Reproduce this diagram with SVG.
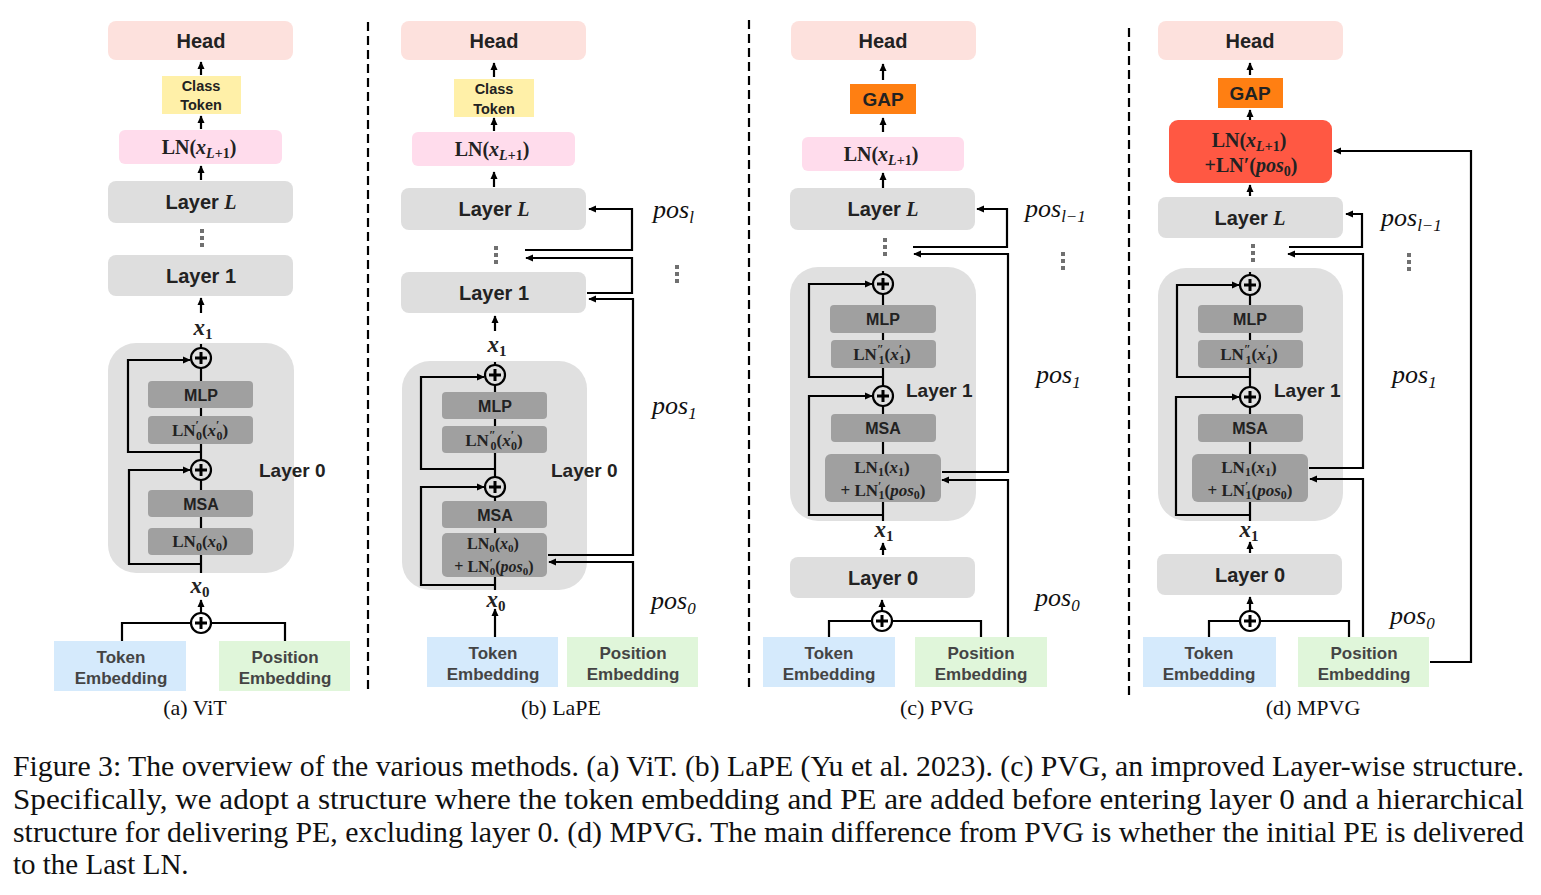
<svg xmlns="http://www.w3.org/2000/svg" width="1541" height="895" viewBox="0 0 1541 895">
<style>
.bg{fill:#fff}
.head{fill:#FDE1DD}
.cls{fill:#FFF0A8}
.lnb{fill:#FFDCEC}
.lay{fill:#DEDEDE}
.big{fill:#E0E0E0}
.inn{fill:#A0A0A0}
.gap{fill:#FF7F12}
.red{fill:#FF5843}
.tok{fill:#D5EAFC}
.pos{fill:#E0F6DA}
.t{font-family:"Liberation Sans",Arial,sans-serif;font-weight:bold;fill:#222;text-anchor:middle}
.te{font-family:"Liberation Sans",Arial,sans-serif;font-weight:bold;fill:#444;text-anchor:middle;font-size:17px}
.it{font-family:"Liberation Serif","Times New Roman",serif;font-style:italic;font-weight:bold}
.m{font-family:"Liberation Serif","Times New Roman",serif;font-weight:bold;fill:#222;text-anchor:middle}
.pl{font-family:"Liberation Serif","Times New Roman",serif;font-style:italic;fill:#111;font-size:26px}
.cap{font-family:"Liberation Serif","Times New Roman",serif;fill:#111;font-size:22px;text-anchor:middle}
.fig{font-family:"Liberation Serif","Times New Roman",serif;fill:#111;font-size:29px}
.ln{stroke:#000;stroke-width:2.2;fill:none}
.ar{marker-end:url(#ah)}
.sep{stroke:#000;stroke-width:2.2;stroke-dasharray:9 5}
.oc{stroke:#000;stroke-width:2.2}
.op{stroke:#000;stroke-width:3}
.dot{fill:#707070}
</style>
<defs>
<marker id="ah" viewBox="0 0 10 10" refX="9" refY="5" markerWidth="8" markerHeight="8" markerUnits="userSpaceOnUse" orient="auto"><path d="M0,0.5 L10,5 L0,9.5 z" fill="#000"/></marker>
</defs>
<rect class="bg" x="0" y="0" width="1541" height="895"/>

<!-- containers -->
<g id="a-layer0"><rect class="big" x="108" y="343" width="186" height="230" rx="28"/><text class="t" x="259" y="477" font-size="19" style="text-anchor:start">Layer 0</text></g>
<g id="b-layer0"><rect class="big" x="402" y="361" width="185" height="229" rx="28"/><text class="t" x="551" y="477" font-size="19" style="text-anchor:start">Layer 0</text></g>
<g id="c-layer1"><rect class="big" x="790" y="267" width="186" height="254" rx="28"/><text class="t" x="906" y="397" font-size="19" style="text-anchor:start">Layer 1</text></g>
<g id="d-layer1"><rect class="big" x="1158" y="268" width="185" height="253" rx="28"/><text class="t" x="1274" y="397" font-size="19" style="text-anchor:start">Layer 1</text></g>

<!-- connectors -->
<g id="connectors">
<line class="sep" x1="368" y1="22" x2="368" y2="692"/>
<line class="sep" x1="749" y1="20" x2="749" y2="690"/>
<line class="sep" x1="1129" y1="28" x2="1129" y2="698"/>
<!-- (a) -->
<path class="ln ar" d="M201,75V62"/>
<path class="ln ar" d="M201,129V116"/>
<path class="ln ar" d="M201,180V166"/>
<path class="ln ar" d="M201,313V298"/>
<path class="ln" d="M201,573V344"/>
<path class="ln ar" d="M201,452H128V360H190"/>
<path class="ln ar" d="M201,564H129V470H190"/>
<path class="ln ar" d="M201,613V600"/>
<path class="ln" d="M122,641V623H191M285,641V623H211"/>
<!-- (b) -->
<path class="ln ar" d="M494,77V63"/>
<path class="ln ar" d="M494,131V118"/>
<path class="ln ar" d="M494,187V172"/>
<path class="ln ar" d="M495,331V316"/>
<path class="ln" d="M495,590V362"/>
<path class="ln ar" d="M495,469H421V377H484"/>
<path class="ln ar" d="M495,585H421V487H484"/>
<path class="ln ar" d="M495,637V609"/>
<path class="ln ar" d="M525,250H632V209H589"/>
<path class="ln ar" d="M587,293H632V258H526"/>
<path class="ln ar" d="M548,555H633V299H589"/>
<path class="ln ar" d="M633,637V562H549"/>
<!-- (c) -->
<path class="ln ar" d="M883,80V64"/>
<path class="ln ar" d="M883,132V118"/>
<path class="ln ar" d="M883,188V173"/>
<path class="ln" d="M883,521V271"/>
<path class="ln ar" d="M883,377H809V284H872"/>
<path class="ln ar" d="M883,515H809V396H872"/>
<path class="ln ar" d="M883,555V543"/>
<path class="ln ar" d="M882,611V600"/>
<path class="ln" d="M829,637V621H872M981,637V621H892"/>
<path class="ln ar" d="M913,247H1007V209H977"/>
<path class="ln ar" d="M942,472H1008V254H914"/>
<path class="ln ar" d="M1008,637V480H942"/>
<!-- (d) -->
<path class="ln ar" d="M1250,75V63"/>
<path class="ln ar" d="M1250,120V110"/>
<path class="ln ar" d="M1250,196V185"/>
<path class="ln" d="M1250,521V272"/>
<path class="ln ar" d="M1250,377H1177V285H1239"/>
<path class="ln ar" d="M1250,515H1176V397H1239"/>
<path class="ln ar" d="M1250,553V542"/>
<path class="ln ar" d="M1250,611V597"/>
<path class="ln" d="M1209,637V621H1240M1349,637V621H1260"/>
<path class="ln ar" d="M1289,247H1362V214H1346"/>
<path class="ln ar" d="M1309,468H1363V254H1288"/>
<path class="ln ar" d="M1363,637V479H1310"/>
<path class="ln ar" d="M1430,662H1471V151H1334"/>
</g>

<!-- ===== (a) ViT ===== -->
<g id="a-head"><rect class="head" x="108" y="21" width="185" height="39" rx="8"/><text class="t" x="201" y="48" font-size="20">Head</text></g>
<g id="a-cls"><rect class="cls" x="162" y="76" width="79" height="38"/><text class="t" x="201" y="91" font-size="14.5">Class</text><text class="t" x="201" y="110" font-size="14.5">Token</text></g>
<g id="a-ln"><rect class="lnb" x="119" y="130" width="163" height="34" rx="6"/><text class="m" x="199" y="154" font-size="20">LN(<tspan font-style="italic">x</tspan><tspan font-style="italic" font-size="14" dy="4">L</tspan><tspan font-size="14">+1</tspan><tspan dy="-4">)</tspan></text></g>
<g id="a-layerL"><rect class="lay" x="108" y="181" width="185" height="42" rx="8"/><text class="t" x="201" y="209" font-size="20">Layer <tspan class="it">L</tspan></text></g>
<g id="a-dots"><rect class="dot" x="200" y="229" width="4" height="4"/><rect class="dot" x="200" y="236" width="4" height="4"/><rect class="dot" x="200" y="243" width="4" height="4"/></g>
<g id="a-layer1"><rect class="lay" x="108" y="255" width="185" height="41" rx="8"/><text class="t" x="201" y="283" font-size="20">Layer 1</text></g>
<g id="a-x1"><text class="m" x="203" y="335" font-size="23"><tspan font-style="italic">x</tspan><tspan font-size="15" dy="4">1</tspan></text></g>
<g id="a-add2"><circle class="oc big" cx="201" cy="358" r="10"/><path class="op" d="M195,358h12M201,352v12"/></g>
<g id="a-mlp"><rect class="inn" x="148" y="381" width="105" height="27" rx="4"/><text class="t" x="201" y="401" font-size="16">MLP</text></g>
<g id="a-ln0p"><rect class="inn" x="148" y="416" width="105" height="28" rx="4"/><text class="m" x="200" y="436" font-size="17">LN<tspan font-size="12" dy="-7">′</tspan><tspan font-size="12" dx="-3" dy="11">0</tspan><tspan dy="-4">(</tspan><tspan font-style="italic">x</tspan><tspan font-size="12" dy="-7">′</tspan><tspan font-size="12" dx="-3" dy="11">0</tspan><tspan dy="-4">)</tspan></text></g>
<g id="a-add1"><circle class="oc big" cx="201" cy="470" r="10"/><path class="op" d="M195,470h12M201,464v12"/></g>
<g id="a-msa"><rect class="inn" x="148" y="490" width="105" height="27" rx="4"/><text class="t" x="201" y="510" font-size="16">MSA</text></g>
<g id="a-ln0"><rect class="inn" x="148" y="528" width="105" height="27" rx="4"/><text class="m" x="200" y="547" font-size="17">LN<tspan font-size="12" dy="4">0</tspan><tspan dy="-4">(</tspan><tspan font-style="italic">x</tspan><tspan font-size="12" dy="4">0</tspan><tspan dy="-4">)</tspan></text></g>
<g id="a-x0"><text class="m" x="200" y="593" font-size="23"><tspan font-style="italic">x</tspan><tspan font-size="15" dy="4">0</tspan></text></g>
<g id="a-add0"><circle class="oc bg" cx="201" cy="623" r="10"/><path class="op" d="M195,623h12M201,617v12"/></g>
<g id="a-tok"><rect class="tok" x="54" y="641" width="132" height="50"/><text class="te" x="121" y="663">Token</text><text class="te" x="121" y="684">Embedding</text></g>
<g id="a-pos"><rect class="pos" x="219" y="641" width="131" height="50"/><text class="te" x="285" y="663">Position</text><text class="te" x="285" y="684">Embedding</text></g>
<text class="cap" x="195" y="715">(a) ViT</text>

<!-- ===== (b) LaPE ===== -->
<g id="b-head"><rect class="head" x="401" y="21" width="185" height="39" rx="8"/><text class="t" x="494" y="48" font-size="20">Head</text></g>
<g id="b-cls"><rect class="cls" x="454" y="79" width="80" height="38"/><text class="t" x="494" y="94" font-size="14.5">Class</text><text class="t" x="494" y="114" font-size="14.5">Token</text></g>
<g id="b-ln"><rect class="lnb" x="412" y="132" width="163" height="34" rx="6"/><text class="m" x="492" y="156" font-size="20">LN(<tspan font-style="italic">x</tspan><tspan font-style="italic" font-size="14" dy="4">L</tspan><tspan font-size="14">+1</tspan><tspan dy="-4">)</tspan></text></g>
<g id="b-layerL"><rect class="lay" x="401" y="188" width="185" height="42" rx="8"/><text class="t" x="494" y="216" font-size="20">Layer <tspan class="it">L</tspan></text></g>
<g id="b-dots"><rect class="dot" x="494" y="246" width="4" height="4"/><rect class="dot" x="494" y="253" width="4" height="4"/><rect class="dot" x="494" y="260" width="4" height="4"/></g>
<g id="b-layer1"><rect class="lay" x="401" y="272" width="185" height="41" rx="8"/><text class="t" x="494" y="300" font-size="20">Layer 1</text></g>
<g id="b-x1"><text class="m" x="497" y="352" font-size="23"><tspan font-style="italic">x</tspan><tspan font-size="15" dy="4">1</tspan></text></g>
<g id="b-add2"><circle class="oc big" cx="495" cy="375" r="10"/><path class="op" d="M489,375h12M495,369v12"/></g>
<g id="b-mlp"><rect class="inn" x="442" y="392" width="105" height="27" rx="4"/><text class="t" x="495" y="412" font-size="16">MLP</text></g>
<g id="b-ln0pp"><rect class="inn" x="442" y="426" width="105" height="27" rx="4"/><text class="m" x="494" y="446" font-size="17">LN<tspan font-size="12" dy="-7">″</tspan><tspan font-size="12" dx="-5" dy="11">0</tspan><tspan dy="-4">(</tspan><tspan font-style="italic">x</tspan><tspan font-size="12" dy="-7">′</tspan><tspan font-size="12" dx="-3" dy="11">0</tspan><tspan dy="-4">)</tspan></text></g>
<g id="b-add1"><circle class="oc big" cx="495" cy="487" r="10"/><path class="op" d="M489,487h12M495,481v12"/></g>
<g id="b-msa"><rect class="inn" x="442" y="501" width="105" height="27" rx="4"/><text class="t" x="495" y="521" font-size="16">MSA</text></g>
<g id="b-ln0"><rect class="inn" x="442" y="533" width="105" height="44" rx="5"/><text class="m" x="493" y="549" font-size="16">LN<tspan font-size="11" dy="3">0</tspan><tspan dy="-3">(</tspan><tspan font-style="italic">x</tspan><tspan font-size="11" dy="3">0</tspan><tspan dy="-3">)</tspan></text><text class="m" x="494" y="572" font-size="16">+ LN<tspan font-size="11" dy="-6">′</tspan><tspan font-size="11" dx="-3" dy="9">0</tspan><tspan dy="-3">(</tspan><tspan font-style="italic">pos</tspan><tspan font-size="11" dy="3">0</tspan><tspan dy="-3">)</tspan></text></g>
<g id="b-x0"><text class="m" x="496" y="607" font-size="23"><tspan font-style="italic">x</tspan><tspan font-size="15" dy="4">0</tspan></text></g>
<g id="b-tok"><rect class="tok" x="427" y="637" width="131" height="50"/><text class="te" x="493" y="659">Token</text><text class="te" x="493" y="680">Embedding</text></g>
<g id="b-pos"><rect class="pos" x="567" y="637" width="131" height="50"/><text class="te" x="633" y="659">Position</text><text class="te" x="633" y="680">Embedding</text></g>
<g id="b-labels">
<text class="pl" x="653" y="218">pos<tspan font-size="17" dy="5">l</tspan></text>
<rect class="dot" x="675" y="265" width="4" height="4"/><rect class="dot" x="675" y="272" width="4" height="4"/><rect class="dot" x="675" y="279" width="4" height="4"/>
<text class="pl" x="652" y="414">pos<tspan font-size="17" dy="5">1</tspan></text>
<text class="pl" x="651" y="609">pos<tspan font-size="17" dy="5">0</tspan></text>
</g>
<text class="cap" x="561" y="715">(b) LaPE</text>

<!-- ===== (c) PVG ===== -->
<g id="c-head"><rect class="head" x="791" y="21" width="185" height="39" rx="8"/><text class="t" x="883" y="48" font-size="20">Head</text></g>
<g id="c-gap"><rect class="gap" x="850" y="84" width="66" height="30"/><text class="t" x="883" y="106" font-size="19">GAP</text></g>
<g id="c-ln"><rect class="lnb" x="802" y="137" width="162" height="34" rx="6"/><text class="m" x="881" y="161" font-size="20">LN(<tspan font-style="italic">x</tspan><tspan font-style="italic" font-size="14" dy="4">L</tspan><tspan font-size="14">+1</tspan><tspan dy="-4">)</tspan></text></g>
<g id="c-layerL"><rect class="lay" x="790" y="188" width="185" height="42" rx="8"/><text class="t" x="883" y="216" font-size="20">Layer <tspan class="it">L</tspan></text></g>
<g id="c-dots"><rect class="dot" x="883" y="238" width="4" height="4"/><rect class="dot" x="883" y="245" width="4" height="4"/><rect class="dot" x="883" y="252" width="4" height="4"/></g>
<g id="c-add2"><circle class="oc big" cx="883" cy="284" r="10"/><path class="op" d="M877,284h12M883,278v12"/></g>
<g id="c-mlp"><rect class="inn" x="830" y="305" width="106" height="28" rx="4"/><text class="t" x="883" y="325" font-size="16">MLP</text></g>
<g id="c-ln1pp"><rect class="inn" x="831" y="340" width="105" height="28" rx="4"/><text class="m" x="882" y="360" font-size="17">LN<tspan font-size="12" dy="-7">″</tspan><tspan font-size="12" dx="-5" dy="11">1</tspan><tspan dy="-4">(</tspan><tspan font-style="italic">x</tspan><tspan font-size="12" dy="-7">′</tspan><tspan font-size="12" dx="-3" dy="11">1</tspan><tspan dy="-4">)</tspan></text></g>
<g id="c-add1"><circle class="oc big" cx="883" cy="396" r="10"/><path class="op" d="M877,396h12M883,390v12"/></g>
<g id="c-msa"><rect class="inn" x="831" y="414" width="105" height="28" rx="4"/><text class="t" x="883" y="434" font-size="16">MSA</text></g>
<g id="c-ln1"><rect class="inn" x="825" y="454" width="116" height="48" rx="6"/><text class="m" x="882" y="473" font-size="17">LN<tspan font-size="12" dy="3">1</tspan><tspan dy="-3">(</tspan><tspan font-style="italic">x</tspan><tspan font-size="12" dy="3">1</tspan><tspan dy="-3">)</tspan></text><text class="m" x="883" y="496" font-size="17">+ LN<tspan font-size="12" dy="-6">′</tspan><tspan font-size="12" dx="-3" dy="9">1</tspan><tspan dy="-3">(</tspan><tspan font-style="italic">pos</tspan><tspan font-size="12" dy="3">0</tspan><tspan dy="-3">)</tspan></text></g>
<g id="c-x1"><text class="m" x="884" y="537" font-size="23"><tspan font-style="italic">x</tspan><tspan font-size="15" dy="4">1</tspan></text></g>
<g id="c-layer0"><rect class="lay" x="790" y="557" width="185" height="41" rx="8"/><text class="t" x="883" y="585" font-size="20">Layer 0</text></g>
<g id="c-add0"><circle class="oc bg" cx="882" cy="621" r="10"/><path class="op" d="M876,621h12M882,615v12"/></g>
<g id="c-tok"><rect class="tok" x="763" y="637" width="132" height="50"/><text class="te" x="829" y="659">Token</text><text class="te" x="829" y="680">Embedding</text></g>
<g id="c-pos"><rect class="pos" x="915" y="637" width="132" height="50"/><text class="te" x="981" y="659">Position</text><text class="te" x="981" y="680">Embedding</text></g>
<g id="c-labels">
<text class="pl" x="1025" y="217">pos<tspan font-size="17" dy="5">l−1</tspan></text>
<rect class="dot" x="1061" y="252" width="4" height="4"/><rect class="dot" x="1061" y="259" width="4" height="4"/><rect class="dot" x="1061" y="266" width="4" height="4"/>
<text class="pl" x="1036" y="383">pos<tspan font-size="17" dy="5">1</tspan></text>
<text class="pl" x="1035" y="606">pos<tspan font-size="17" dy="5">0</tspan></text>
</g>
<text class="cap" x="937" y="715">(c) PVG</text>

<!-- ===== (d) MPVG ===== -->
<g id="d-head"><rect class="head" x="1158" y="21" width="185" height="39" rx="8"/><text class="t" x="1250" y="48" font-size="20">Head</text></g>
<g id="d-gap"><rect class="gap" x="1218" y="78" width="65" height="30"/><text class="t" x="1250" y="100" font-size="19">GAP</text></g>
<g id="d-ln"><rect class="red" x="1169" y="120" width="163" height="63" rx="9"/><text class="m" x="1249" y="147" font-size="20">LN(<tspan font-style="italic">x</tspan><tspan font-style="italic" font-size="14" dy="4">L</tspan><tspan font-size="14">+1</tspan><tspan dy="-4">)</tspan></text><text class="m" x="1251" y="172" font-size="20">+LN′(<tspan font-style="italic">pos</tspan><tspan font-size="14" dy="4">0</tspan><tspan dy="-4">)</tspan></text></g>
<g id="d-layerL"><rect class="lay" x="1158" y="197" width="185" height="41" rx="8"/><text class="t" x="1250" y="225" font-size="20">Layer <tspan class="it">L</tspan></text></g>
<g id="d-dots"><rect class="dot" x="1251" y="244" width="4" height="4"/><rect class="dot" x="1251" y="251" width="4" height="4"/><rect class="dot" x="1251" y="258" width="4" height="4"/></g>
<g id="d-add2"><circle class="oc big" cx="1250" cy="285" r="10"/><path class="op" d="M1244,285h12M1250,279v12"/></g>
<g id="d-mlp"><rect class="inn" x="1198" y="305" width="105" height="28" rx="4"/><text class="t" x="1250" y="325" font-size="16">MLP</text></g>
<g id="d-ln1pp"><rect class="inn" x="1198" y="340" width="105" height="28" rx="4"/><text class="m" x="1249" y="360" font-size="17">LN<tspan font-size="12" dy="-7">″</tspan><tspan font-size="12" dx="-5" dy="11">1</tspan><tspan dy="-4">(</tspan><tspan font-style="italic">x</tspan><tspan font-size="12" dy="-7">′</tspan><tspan font-size="12" dx="-3" dy="11">1</tspan><tspan dy="-4">)</tspan></text></g>
<g id="d-add1"><circle class="oc big" cx="1250" cy="397" r="10"/><path class="op" d="M1244,397h12M1250,391v12"/></g>
<g id="d-msa"><rect class="inn" x="1198" y="414" width="105" height="28" rx="4"/><text class="t" x="1250" y="434" font-size="16">MSA</text></g>
<g id="d-ln1"><rect class="inn" x="1192" y="454" width="116" height="48" rx="6"/><text class="m" x="1249" y="473" font-size="17">LN<tspan font-size="12" dy="3">1</tspan><tspan dy="-3">(</tspan><tspan font-style="italic">x</tspan><tspan font-size="12" dy="3">1</tspan><tspan dy="-3">)</tspan></text><text class="m" x="1250" y="496" font-size="17">+ LN<tspan font-size="12" dy="-6">′</tspan><tspan font-size="12" dx="-3" dy="9">1</tspan><tspan dy="-3">(</tspan><tspan font-style="italic">pos</tspan><tspan font-size="12" dy="3">0</tspan><tspan dy="-3">)</tspan></text></g>
<g id="d-x1"><text class="m" x="1249" y="537" font-size="23"><tspan font-style="italic">x</tspan><tspan font-size="15" dy="4">1</tspan></text></g>
<g id="d-layer0"><rect class="lay" x="1157" y="554" width="185" height="41" rx="8"/><text class="t" x="1250" y="582" font-size="20">Layer 0</text></g>
<g id="d-add0"><circle class="oc bg" cx="1250" cy="621" r="10"/><path class="op" d="M1244,621h12M1250,615v12"/></g>
<g id="d-tok"><rect class="tok" x="1143" y="637" width="133" height="50"/><text class="te" x="1209" y="659">Token</text><text class="te" x="1209" y="680">Embedding</text></g>
<g id="d-pos"><rect class="pos" x="1298" y="637" width="131" height="50"/><text class="te" x="1364" y="659">Position</text><text class="te" x="1364" y="680">Embedding</text></g>
<g id="d-labels">
<text class="pl" x="1381" y="226">pos<tspan font-size="17" dy="5">l−1</tspan></text>
<rect class="dot" x="1407" y="253" width="4" height="4"/><rect class="dot" x="1407" y="260" width="4" height="4"/><rect class="dot" x="1407" y="267" width="4" height="4"/>
<text class="pl" x="1392" y="383">pos<tspan font-size="17" dy="5">1</tspan></text>
<text class="pl" x="1390" y="624">pos<tspan font-size="17" dy="5">0</tspan></text>
</g>
<text class="cap" x="1313" y="715">(d) MPVG</text>

<!-- caption -->
<g id="caption">
<text class="fig" x="13" y="776" textLength="1511" lengthAdjust="spacingAndGlyphs">Figure 3: The overview of the various methods. (a) ViT. (b) LaPE (Yu et al. 2023). (c) PVG, an improved Layer-wise structure.</text>
<text class="fig" x="13" y="809" textLength="1511" lengthAdjust="spacingAndGlyphs">Specifically, we adopt a structure where the token embedding and PE are added before entering layer 0 and a hierarchical</text>
<text class="fig" x="13" y="842" textLength="1511" lengthAdjust="spacingAndGlyphs">structure for delivering PE, excluding layer 0. (d) MPVG. The main difference from PVG is whether the initial PE is delivered</text>
<text class="fig" x="13" y="874">to the Last LN.</text>
</g>
</svg>
